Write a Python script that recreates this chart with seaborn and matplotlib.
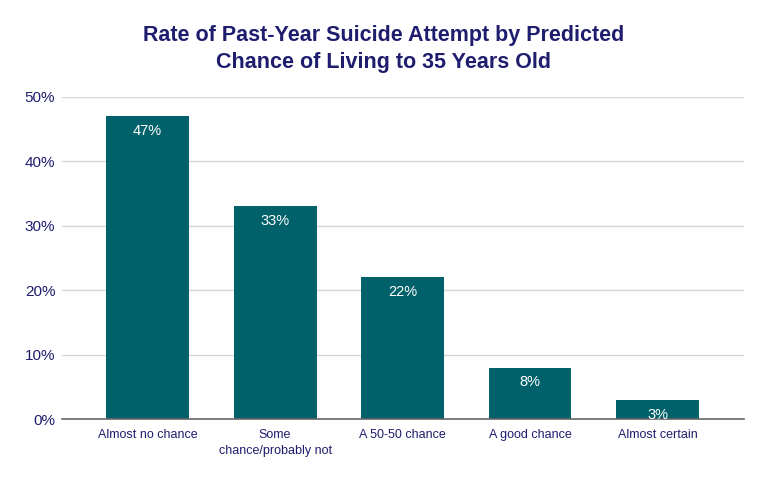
import matplotlib
matplotlib.use("Agg")
import matplotlib.pyplot as plt
import seaborn as sns
import pandas as pd

categories = ["Almost no chance", "Some\nchance/probably not", "A 50-50 chance",
              "A good chance", "Almost certain"]
values = [47, 33, 22, 8, 3]
yticks = [0, 10, 20, 30, 40, 50]
title = "Rate of Past-Year Suicide Attempt by Predicted\nChance of Living to 35 Years Old"

sns.set_theme(style="white")
plt.rcParams['font.family'] = ['Liberation Sans', 'DejaVu Sans']

navy = "#1f1d6e"
teal = "#01616a"

df = pd.DataFrame({"cat": categories, "val": values})
fig = plt.figure(figsize=(7.68, 4.8), dpi=100)
ax = fig.add_axes([0.081, 0.127, 0.888, 0.671])
sns.barplot(data=df, x="cat", y="val", color=teal, width=0.65, saturation=1,
            linewidth=0, ax=ax)
ax.set_xlim(-0.67, 4.68)
ax.set_ylim(0, 50)
ax.set_yticks(yticks)
ax.set_yticklabels([f"{t}%" for t in yticks], color=navy, fontsize=11)
ax.set_xticks(range(len(categories)))
ax.set_xticklabels(categories, color=navy, fontsize=9, linespacing=1.5)
ax.tick_params(axis="both", length=0)
ax.tick_params(axis="y", pad=5)
ax.tick_params(axis="x", pad=7)
ax.set_xlabel("")
ax.set_ylabel("")
for s in ["top", "right", "left"]:
    ax.spines[s].set_visible(False)
ax.spines["bottom"].set_color("#666666")
ax.spines["bottom"].set_linewidth(1.2)
ax.yaxis.grid(True, color="#d6d6d6", linewidth=1)
ax.set_axisbelow(True)
for i, v in enumerate(values):
    ax.text(i, v - 2.3, f"{v}%", ha="center", va="center", color="white", fontsize=10.5)
fig.text(0.5, 0.898, title, ha="center", va="center", color=navy,
         fontsize=15.5, fontweight="bold", linespacing=1.4)
fig.savefig("out.png", dpi=100, facecolor="white")
